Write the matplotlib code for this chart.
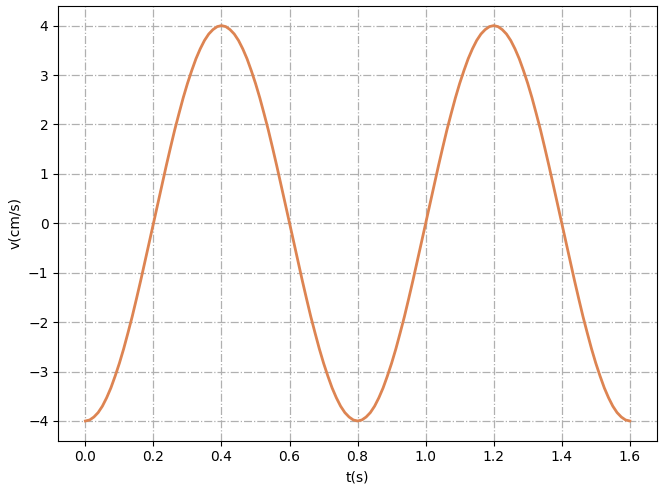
import matplotlib
matplotlib.use('Agg')
import matplotlib.pyplot as plt

# time samples (s), every 0.0125 s
t = [round(0.0125 * k, 4) for k in range(129)]

# velocity (cm/s): rising half from the trough at -4 to the peak at 4
rise = [-4.00, -3.98, -3.92, -3.83, -3.70, -3.53, -3.33, -3.09, -2.83,
        -2.54, -2.22, -1.89, -1.53, -1.16, -0.78, -0.39, 0.00,
        0.39, 0.78, 1.16, 1.53, 1.89, 2.22, 2.54, 2.83,
        3.09, 3.33, 3.53, 3.70, 3.83, 3.92, 3.98, 4.00]
# falling half is the mirror image of the rise
fall = rise[::-1][1:]
v = rise + fall + rise[1:] + fall

x_ticks = [0.0, 0.2, 0.4, 0.6, 0.8, 1.0, 1.2, 1.4, 1.6]
y_ticks = [-4, -3, -2, -1, 0, 1, 2, 3, 4]

fig, ax = plt.subplots(figsize=(6.61, 4.87), dpi=100)
fig.subplots_adjust(left=0.088, right=0.994, bottom=0.095, top=0.988)

ax.plot(t, v, color='#dd8452', linewidth=2)
ax.set_xticks(x_ticks)
ax.set_yticks(y_ticks)
ax.set_xlabel('t(s)')
ax.set_ylabel('v(cm/s)')
ax.grid(True, linestyle='-.', color='#b0b0b0', linewidth=0.9)

fig.savefig('out.png', dpi=100)
